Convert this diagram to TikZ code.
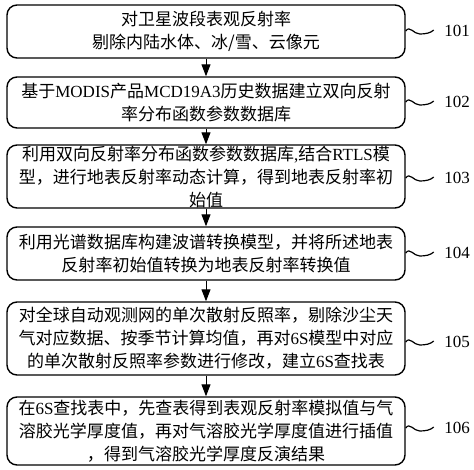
\documentclass[tikz,border=0pt]{standalone}
\usepackage{fontspec}
\setmainfont{Liberation Serif}
\newfontfamily\cjk{Noto Sans CJK SC}
\usetikzlibrary{arrows.meta}
\newcommand\LatinT[1]{{\rmfamily #1}}
\begin{document}
\begin{tikzpicture}[x=1bp,y=-1bp,
  box/.style={draw, line width=1.4bp, rounded corners=10bp, minimum width=398bp,
    align=center, inner sep=0pt, font=\cjk\fontsize{17bp}{23bp}\selectfont},
  arr/.style={line width=1bp, -{Triangle[width=9bp,length=12bp]}},
  wave/.style={line width=1.2bp},
  lbl/.style={font=\fontsize{17bp}{20bp}\selectfont, inner sep=0pt}]
\useasboundingbox (0,0) rectangle (474,470);
\fill[white] (0,0) rectangle (474,470);

\node[box, minimum height=53bp] (s1) at (206,31.5) {对卫星波段表观反射率\\剔除内陆水体、冰/雪、云像元};
\node[box, minimum height=51bp] (s2) at (206,102.5) {基于\LatinT{MODIS}产品\LatinT{MCD19A3}历史数据建立双向反射\\率分布函数参数数据库};
\node[box, minimum height=63bp] (s3) at (206,176.5) {利用双向反射率分布函数参数数据库\LatinT{,}结合\LatinT{RTLS}模\\型，进行地表反射率动态计算，得到地表反射率初\\始值};
\node[box, minimum height=53bp] (s4) at (206,253.5) {利用光谱数据库构建波谱转换模型，并将所述地表\\反射率初始值转换为地表反射率转换值};
\node[box, minimum height=73bp] (s5) at (206,338.5) {对全球自动观测网的单次散射反照率，剔除沙尘天\\气对应数据、按季节计算均值，再对\LatinT{6S}模型中对应\\的单次散射反照率参数进行修改，建立\LatinT{6S}查找表};
\node[box, minimum height=68bp] (s6) at (206,431) {在\LatinT{6S}查找表中，先查表得到表观反射率模拟值与气\\溶胶光学厚度值，再对气溶胶光学厚度值进行插值\\，得到气溶胶光学厚度反演结果};

\draw[arr] (s1) -- (s2);
\draw[arr] (s2) -- (s3);
\draw[arr] (s3) -- (s4);
\draw[arr] (s4) -- (s5);
\draw[arr] (s5) -- (s6);

\node[lbl] (l1) at (457,31) {101};
\node[lbl] (l2) at (457,102) {102};
\node[lbl] (l3) at (457,178) {103};
\node[lbl] (l4) at (457,253) {104};
\node[lbl] (l5) at (457,342) {105};
\node[lbl] (l6) at (457,428) {106};

\foreach \i in {1,...,6}{
  \draw[wave] (s\i.east |- l\i) .. controls +(4,-6) and +(-6,0) .. ++(14,3)
     .. controls +(6,0) and +(-3,3) .. ++(14,-4);
}
\end{tikzpicture}
\end{document}
